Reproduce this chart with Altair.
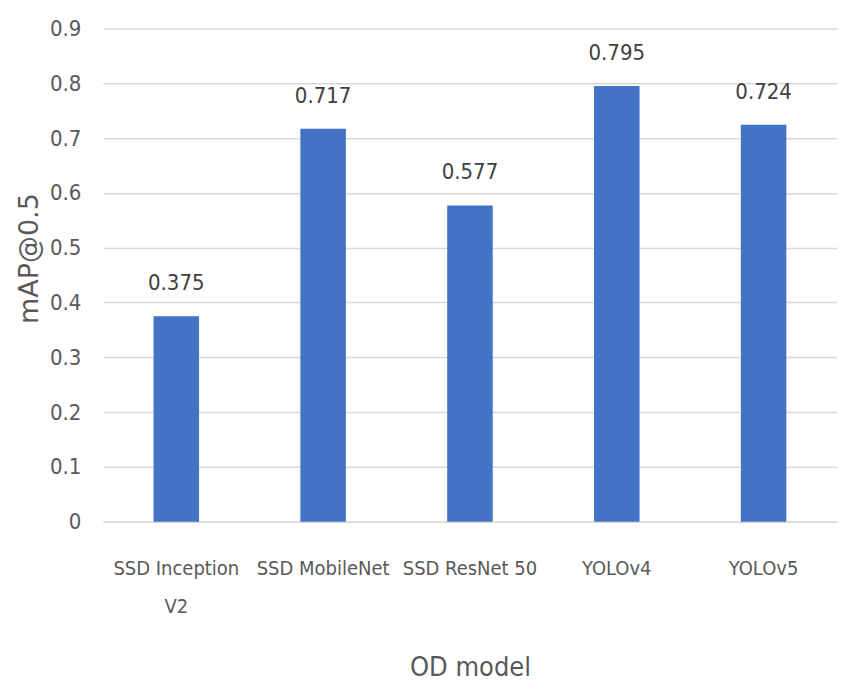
import altair as alt
import pandas as pd

models = ["SSD Inception V2", "SSD MobileNet", "SSD ResNet 50", "YOLOv4", "YOLOv5"]
map_values = [0.375, 0.717, 0.577, 0.795, 0.724]
y_ticks = [0, 0.1, 0.2, 0.3, 0.4, 0.5, 0.6, 0.7, 0.8, 0.9]

df = pd.DataFrame({"model": models, "mAP": map_values})

FONT = "Liberation Sans Narrow, DejaVu Sans Condensed, Roboto, sans-serif"

base = alt.Chart(df).encode(
    x=alt.X(
        "model:N",
        sort=models,
        title="OD model",
        scale=alt.Scale(paddingInner=0.69, paddingOuter=0.345),
        axis=alt.Axis(
            labelAngle=0,
            labelFont=FONT,
            labelFontSize=20,
            labelColor="#595959",
            labelPadding=37,
            labelLineHeight=38,
            labelExpr="datum.label == 'SSD Inception V2' ? ['SSD Inception', 'V2'] : datum.label",
            ticks=False,
            domainColor="#d9d9d9",
            domainWidth=1.5,
            titleFont=FONT,
            titleFontSize=27,
            titleFontWeight="normal",
            titleColor="#595959",
            titlePadding=38,
        ),
    ),
    y=alt.Y(
        "mAP:Q",
        title="mAP@0.5",
        scale=alt.Scale(domain=[0, 0.9], nice=False),
        axis=alt.Axis(
            values=y_ticks,
            labelExpr="datum.value == 0 ? '0' : format(datum.value, '.1f')",
            labelFont=FONT,
            labelFontSize=22,
            labelColor="#595959",
            labelPadding=22,
            ticks=False,
            domain=False,
            gridColor="#d9d9d9",
            gridWidth=1.5,
            titleFont="DejaVu Sans",
            titleFontSize=27,
            titleFontWeight="normal",
            titleColor="#595959",
            titleX=-59,
            titleY=230,
        ),
    ),
)

bars = base.mark_bar(color="#4472C4")
labels = base.mark_text(
    baseline="alphabetic", dy=-26, font=FONT, fontSize=22, color="#404040"
).encode(text=alt.Text("mAP:Q", format=".3f"))

chart = (
    (bars + labels)
    .properties(
        width=735,
        height=494,
        autosize=alt.AutoSizeParams(type="none"),
        padding={"left": 95, "top": 20, "right": 10, "bottom": 160},
        background="white",
    )
    .configure_view(stroke=None)
)

chart.save("out.html", embed_options={"renderer": "svg", "actions": False})
